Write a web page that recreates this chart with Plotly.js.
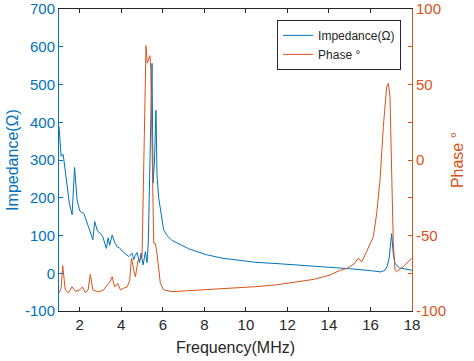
<!DOCTYPE html>
<html><head><meta charset="utf-8">
<script src="https://cdn.plot.ly/plotly-3.0.1.min.js"></script>
<style>html,body{margin:0;padding:0;background:#fff}#c{width:474px;height:361px}</style>
</head><body><div id="c"></div>
<script>
var impFreq = [1.0,1.05,1.1,1.2,1.3,1.4,1.5,1.63,1.75,1.87,2.0,2.2,2.4,2.55,2.63,2.72,2.85,3.0,3.1,3.2,3.28,3.37,3.44,3.56,3.68,3.8,3.9,4.04,4.2,4.36,4.52,4.6,4.68,4.76,4.88,4.95,5.05,5.16,5.24,5.3,5.4,5.48,5.53,5.6,5.67,5.72,5.8,5.9,6.04,6.2,6.44,7.24,8.04,8.85,9.64,10.45,11.4,12.5,14.05,15.0,16.0,16.5,16.7,16.8,16.9,17.02,17.1,17.18,17.4,17.7,18.0];
var impedance = [390,330,310,315,270,220,185,155,280,195,165,158,125,105,89,137,112,105,98,80,66,94,74,101,82,70,68,59,52,44,53,36,48,55,28,53,22,57,28,80,350,556,239,300,432,260,200,160,115,100,87,65,50,40,34,29,26,22,17,12,7,3.5,8,18,40,105,50,26,14,10,8];

var phaseFreq = [1.0,1.1,1.18,1.3,1.45,1.63,1.8,2.0,2.14,2.27,2.4,2.51,2.63,2.8,3.0,3.15,3.32,3.45,3.56,3.68,3.83,3.96,4.1,4.28,4.4,4.49,4.6,4.68,4.81,4.92,5.0,5.1,5.19,5.25,5.3,5.38,5.42,5.5,5.56,5.64,5.72,5.88,6.04,6.44,7.24,8.85,10.45,11.4,12.5,13.3,14.05,14.5,14.86,15.2,15.41,15.58,15.8,16.06,16.14,16.3,16.46,16.62,16.78,16.86,16.94,17.02,17.1,17.18,17.26,17.58,17.8,17.98];
var phase = [-88,-85,-70,-86,-88,-84,-87,-86,-84,-88,-86,-75.7,-86,-87,-87,-86,-82.8,-81,-77.3,-84,-81.7,-86,-85,-84,-80,-65,-72.9,-77.3,-66.2,-66,-64,10,75.7,64.2,66,69.1,60,-20,-55,-55.3,-62,-81.7,-86,-87.2,-86.6,-85.4,-83.9,-82.8,-80.5,-79,-76.2,-73.3,-71.8,-69,-65.1,-67.4,-61,-53,-50.8,-35.3,-13.2,22,48.5,50.8,42,-7.3,-55,-72.9,-74,-70.7,-67.5,-65];

var xTicks = [2,4,6,8,10,12,14,16,18];
var impTicks = [-100,0,100,200,300,400,500,600,700];
var impTickText = ['-100','0','100','200','300','400','500','600','700'];
var phaseTicks = [-100,-75,-50,-25,0,25,50,75,100];
var phaseTickText = ['-100','','-50','','0','','50','','100'];

var blue = '#0072BD', orange = '#D95319', dark = '#262626';
var font = 'Liberation Sans, Arial, Helvetica, sans-serif';

var traces = [
  {x: impFreq, y: impedance, type: 'scatter', mode: 'lines', name: 'Impedance(Ω)',
   line: {color: blue, width: 1}, yaxis: 'y'},
  {x: phaseFreq, y: phase, type: 'scatter', mode: 'lines', name: 'Phase °',
   line: {color: orange, width: 1}, yaxis: 'y2'}
];

var layout = {
  width: 474, height: 361,
  margin: {l: 59, r: 62, t: 9, b: 50, pad: 0},
  paper_bgcolor: '#fff', plot_bgcolor: '#fff',
  font: {family: font, size: 15, color: dark},
  showlegend: true,
  legend: {x: 0.969, y: 0.964, xanchor: 'right', yanchor: 'top',
    bgcolor: '#fff', bordercolor: dark, borderwidth: 1,
    font: {family: font, size: 12, color: dark}},
  xaxis: {range: [1, 18], tickvals: xTicks, ticks: 'inside', ticklen: 4,
    tickcolor: dark, showline: true, linecolor: dark, linewidth: 1,
    mirror: 'ticks', showgrid: false, zeroline: false,
    tickfont: {size: 15, color: dark},
    title: {text: 'Frequency(MHz)', font: {size: 16, color: dark}, standoff: 9}},
  yaxis: {range: [-100, 700], tickvals: impTicks, ticktext: impTickText, ticks: 'inside', ticklen: 4,
    tickcolor: blue, showline: true, linecolor: blue, linewidth: 1,
    showgrid: false, zeroline: false,
    tickfont: {size: 15, color: blue},
    title: {text: 'Impedance(Ω)', font: {size: 16, color: blue}, standoff: 2}},
  yaxis2: {range: [-100, 100], overlaying: 'y', side: 'right',
    tickvals: phaseTicks, ticktext: phaseTickText, ticks: 'inside', ticklen: 4,
    tickcolor: orange, showline: true, linecolor: orange, linewidth: 1,
    showgrid: false, zeroline: false,
    tickfont: {size: 15, color: orange},
    title: {text: 'Phase °', font: {size: 16, color: orange}, standoff: 6}}
};

Plotly.newPlot('c', traces, layout, {displayModeBar: false, staticPlot: true});
</script></body></html>
